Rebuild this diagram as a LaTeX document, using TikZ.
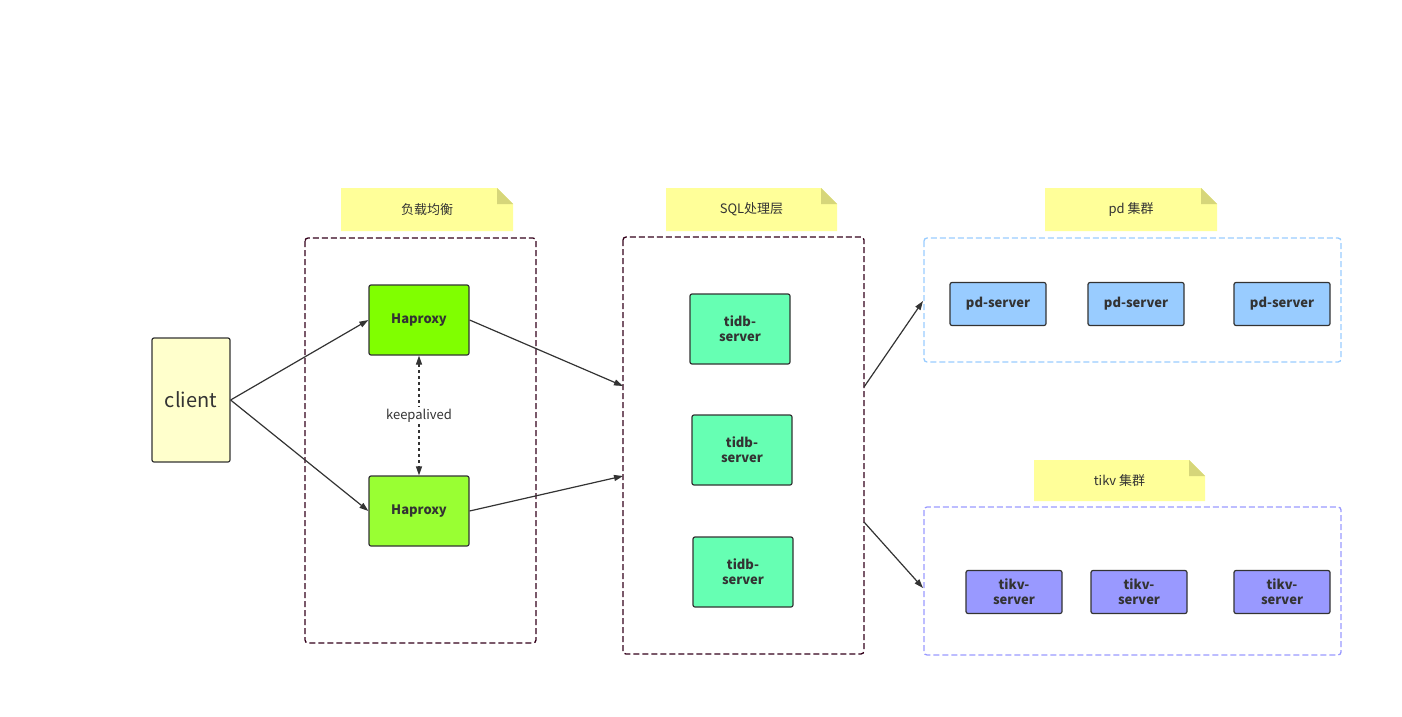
\documentclass[tikz,border=0pt]{standalone}
\usepackage{fontspec}
\setmainfont{Noto Sans CJK SC}
\usetikzlibrary{arrows.meta}
\definecolor{dk}{HTML}{333333}
\definecolor{maroon}{HTML}{33001A}
\definecolor{noteY}{HTML}{FFFF99}
\definecolor{fold}{HTML}{D6D67A}
\tikzset{
  every node/.style={font=\fontsize{13}{15}\selectfont\bfseries, text=dk},
  srv/.style={draw=dk, line width=1.2pt, rounded corners=2pt, align=center, inner sep=0pt},
  grp/.style={dashed, line width=1.3pt, rounded corners=3pt, dash pattern=on 6pt off 3pt},
  arr/.style={draw=dk, line width=1.2pt, -{Triangle[length=9pt,width=6pt]}},
  lbl/.style={font=\fontsize{13}{15}\selectfont, text=dk}
}
\newcommand{\note}[5]{% x1 y1 x2 y2 text
  \fill[noteY] (#1,#2) -- (#3-16,#2) -- (#3,#2+16) -- (#3,#4) -- (#1,#4) -- cycle;
  \fill[fold] (#3-16,#2) -- (#3,#2+16) -- (#3-16,#2+16) -- cycle;
  \node[lbl] at ({(#1+#3)/2},{(#2+#4)/2}) {#5};
}
\begin{document}
\begin{tikzpicture}[x=1pt,y=-1pt]
\useasboundingbox (0,0) rectangle (1402,717);
% notes
\note{341}{188}{513}{231}{负载均衡}
\note{666}{188}{837}{231}{SQL处理层}
\note{1045}{188}{1217}{231}{pd 集群}
\note{1034}{460}{1205}{501}{tikv 集群}
% groups
\draw[grp, maroon] (305,238) rectangle (536,643);
\draw[grp, maroon] (623,237) rectangle (864,654);
\draw[grp, color={rgb,255:red,153;green,204;blue,255}] (924,238) rectangle (1341,362);
\draw[grp, color={rgb,255:red,153;green,153;blue,255}] (924,507) rectangle (1341,655);
% client
\node[srv, fill={rgb,255:red,255;green,255;blue,204}, minimum width=78pt, minimum height=124pt, font=\fontsize{20}{24}\selectfont] (client) at (191,400) {client};
% haproxy
\node[srv, fill={rgb,255:red,128;green,255;blue,0}, minimum width=100pt, minimum height=70pt] (h1) at (419,320) {Haproxy};
\node[srv, fill={rgb,255:red,153;green,255;blue,51}, minimum width=100pt, minimum height=70pt] (h2) at (419,511) {Haproxy};
% tidb
\node[srv, fill={rgb,255:red,102;green,255;blue,179}, minimum width=100pt, minimum height=70pt] (t1) at (740,329) {tidb-\\server};
\node[srv, fill={rgb,255:red,102;green,255;blue,179}, minimum width=100pt, minimum height=70pt] (t2) at (742,450) {tidb-\\server};
\node[srv, fill={rgb,255:red,102;green,255;blue,179}, minimum width=100pt, minimum height=70pt] (t3) at (743,572) {tidb-\\server};
% pd
\foreach \n/\x in {p1/998,p2/1136,p3/1282}
  \node[srv, fill={rgb,255:red,153;green,204;blue,255}, minimum width=96pt, minimum height=43pt] (\n) at (\x,304) {pd-server};
\foreach \n/\x in {k1/1014,k2/1139,k3/1282}
  \node[srv, fill={rgb,255:red,153;green,153;blue,255}, minimum width=96pt, minimum height=43pt] (\n) at (\x,592) {tikv-\\server};
% coordinates
\coordinate (s1) at (623,386);
\coordinate (s2) at (623,476);
\coordinate (o1) at (864,387);
\coordinate (o2) at (864,522);
\coordinate (pin) at (923,301);
\coordinate (kin) at (923,588);
% arrows
\draw[arr] (client.east) -- (h1.west);
\draw[arr] (client.east) -- (h2.west);
\draw[arr] (h1.east) -- (s1);
\draw[arr] (h2.east) -- (s2);
\draw[arr] (o1) -- (pin);
\draw[arr] (o2) -- (kin);
\draw[draw=dk, line width=1.2pt, dashed, {Triangle[length=9pt,width=6pt]}-{Triangle[length=9pt,width=6pt]}] (h1.south) -- node[fill=white, lbl, inner sep=2pt] {keepalived} (h2.north);
\end{tikzpicture}
\end{document}
